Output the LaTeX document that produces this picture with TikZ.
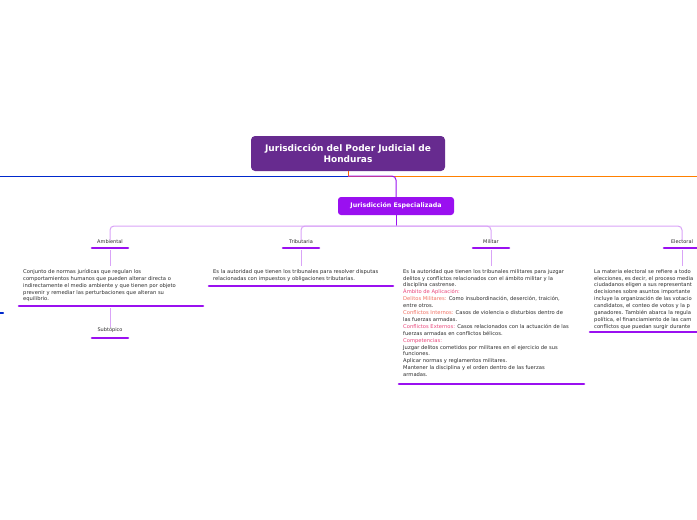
\documentclass[tikz,border=0pt]{standalone}
\usepackage{fontspec}
\setmainfont{DejaVu Sans}
\definecolor{rootc}{HTML}{672B8F}
\definecolor{specc}{HTML}{9A10F0}
\definecolor{linkc}{HTML}{D9A3F7}
\definecolor{barc}{HTML}{9A10F0}
\definecolor{pinkc}{HTML}{E8457A}
\definecolor{salc}{HTML}{F07060}
\definecolor{txtc}{HTML}{2A2A2A}
\begin{document}
\begin{tikzpicture}[x=1pt,y=-1pt,
  bar/.style={line width=2.6pt,draw=barc,line cap=round},
  lnk/.style={draw=linkc,line width=1pt,rounded corners=4pt},
  lbl/.style={font=\fontsize{5}{6}\selectfont,text=txtc,inner sep=0pt},
  body/.style={font=\fontsize{5.2}{6.9}\selectfont,text=txtc,inner sep=0pt,anchor=north west,align=left}]
\useasboundingbox (0,0) rectangle (697,520);
\clip (0,0) rectangle (697,520);
% root
\node[fill=rootc,rounded corners=4pt,minimum width=194pt,minimum height=35pt,text=white,align=center,font=\bfseries\fontsize{9}{11.5}\selectfont] (root) at (348,153.5) {Jurisdicción del Poder Judicial de\\Honduras};
\coordinate (rj) at (348,176);
\draw[draw=orange!80!red,line width=1pt] (root.south) -- (rj);
\coordinate (lend) at (0,176);
\coordinate (rend) at (697,176);
\draw[draw=blue!80!cyan!80!black,line width=1pt] (rj) -- (lend);
\draw[draw=orange,line width=1pt] (rj) -- (rend);
\draw[draw=blue!80!cyan!80!black,line width=2.4pt,line cap=round] (-3,313) -- (3,313);
% specialized
\node[fill=specc,rounded corners=3pt,minimum width=116pt,minimum height=18pt,text=white,font=\bfseries\fontsize{6.3}{7}\selectfont] (esp) at (396,206) {Jurisdicción Especializada};
\draw[draw=specc,line width=1pt,rounded corners=4pt] (rj) -| (esp.north);
\coordinate (hub) at (396,226);
\draw[draw=specc,line width=1pt] (esp.south) -- (hub);
% labels
\node[lbl] (amb) at (110,242) {Ambiental};
\node[lbl] (tri) at (301,242) {Tributaria};
\node[lbl] (mil) at (491,242) {Militar};
\node[lbl] (ele) at (682,242) {Electoral};
\draw[lnk] (hub) -| (amb.north);
\draw[lnk] (hub) -| (tri.north);
\draw[lnk] (hub) -| (mil.north);
\draw[lnk] (hub) -| (ele.north);
\foreach \x in {110,301,491,682}{\draw[bar] (\x-18,248) -- (\x+18,248);}
% bodies
\node[body] (tamb) at (23,269) {Conjunto de normas jurídicas que regulan los\\comportamientos humanos que pueden alterar directa o\\indirectamente el medio ambiente y que tienen por objeto\\prevenir y remediar las perturbaciones que alteran su\\equilibrio.};
\node[body] (ttri) at (213,269) {Es la autoridad que tienen los tribunales para resolver disputas\\relacionadas con impuestos y obligaciones tributarias.};
\node[body] (tmil) at (403,269) {Es la autoridad que tienen los tribunales militares para juzgar\\delitos y conflictos relacionados con el ámbito militar y la\\disciplina castrense.\\\textcolor{pinkc}{Ámbito de Aplicación:}\\\textcolor{salc}{Delitos Militares:} Como insubordinación, deserción, traición,\\entre otros.\\\textcolor{salc}{Conflictos Internos:} Casos de violencia o disturbios dentro de\\las fuerzas armadas.\\\textcolor{pinkc}{Conflictos Externos:} Casos relacionados con la actuación de las\\fuerzas armadas en conflictos bélicos.\\\textcolor{pinkc}{Competencias:}\\Juzgar delitos cometidos por militares en el ejercicio de sus\\funciones.\\Aplicar normas y reglamentos militares.\\Mantener la disciplina y el orden dentro de las fuerzas\\armadas.};
\node[body] (tele) at (594,269) {La materia electoral se refiere a todo\\elecciones, es decir, el proceso media\\ciudadanos eligen a sus representant\\decisiones sobre asuntos importante\\incluye la organización de las votacio\\candidatos, el conteo de votos y la p\\ganadores. También abarca la regula\\política, el financiamiento de las cam\\conflictos que puedan surgir durante};
\foreach \x in {110,301,491,682}{\draw[lnk] (\x,250) -- (\x,266);}
\draw[bar] (19,306) -- (203,306);
\draw[bar] (209,286) -- (393,286);
\draw[bar] (399,384) -- (584,384);
\draw[bar] (590,332) -- (720,332);
% subtopic
\node[lbl] (sub) at (110,330) {Subtópico};
\draw[lnk] (110,308) -- (sub.north);
\draw[bar] (92,338) -- (128,338);
\end{tikzpicture}
\end{document}
